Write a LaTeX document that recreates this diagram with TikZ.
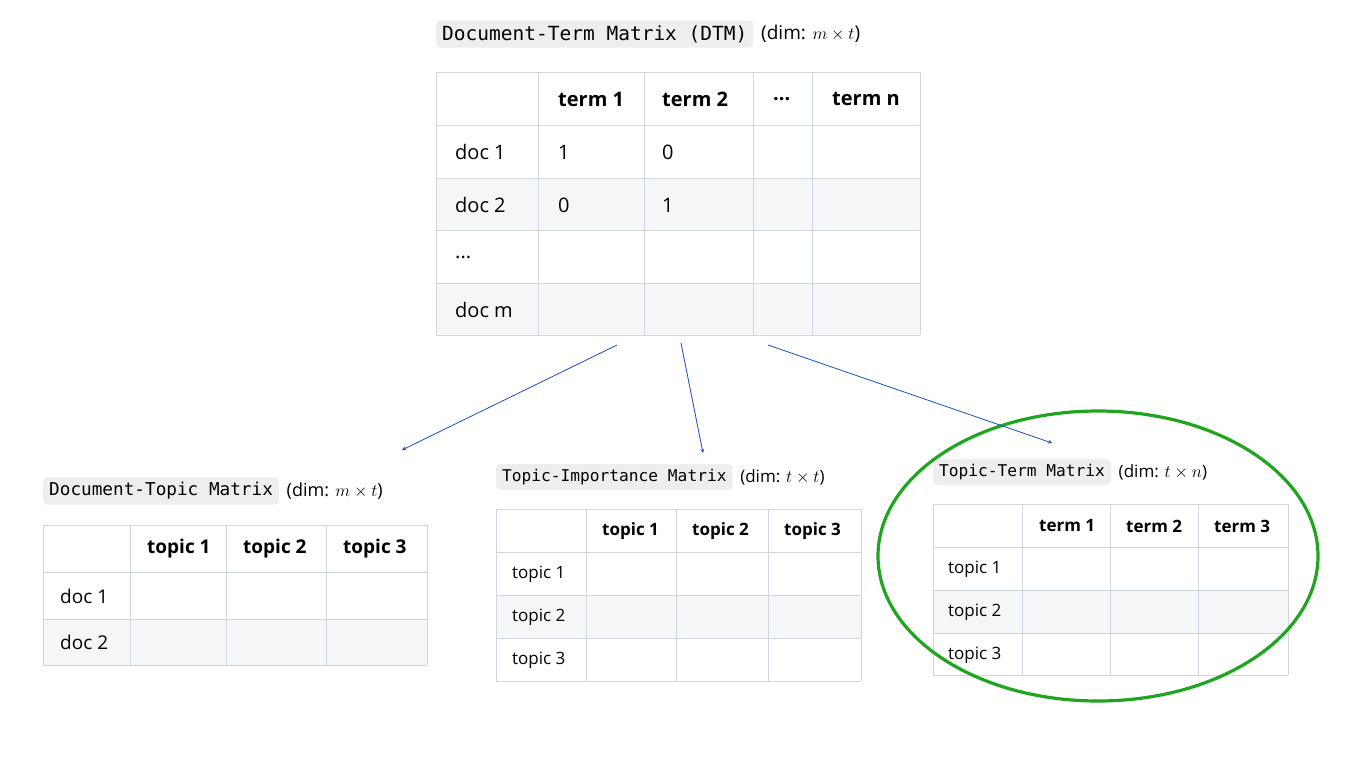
\documentclass[tikz,border=0pt]{standalone}
\usepackage{fontspec}
\setmainfont{Open Sans}
\setmonofont{DejaVu Sans Mono}
\definecolor{gridc}{HTML}{D0D7DE}
\definecolor{rowg}{HTML}{F4F6F8}
\definecolor{codeb}{HTML}{EEEEEE}
\definecolor{arr}{HTML}{1550C8}
\definecolor{grn}{HTML}{1FA51F}
\begin{document}
\begin{tikzpicture}[x=1pt,y=-1pt,
  grid/.style={draw=gridc,line width=0.9pt},
  codebox/.style={fill=codeb,rounded corners=4pt,inner xsep=6pt,inner ysep=5pt,anchor=west},
  dimtxt/.style={anchor=west,xshift=4pt},
  cell/.style={anchor=west,inner sep=0pt},
  arrowc/.style={draw=arr,line width=0.8pt,-stealth}]
\useasboundingbox (0,0) rectangle (1358,764);
% ---------- top table
\fill[rowg] (436,178) rectangle (920,230);
\fill[rowg] (436,283) rectangle (920,335);
\foreach \x in {436,538,644,753,812,920} \draw[grid] (\x,72)--(\x,335);
\foreach \y in {72,125,178,230,283,335} \draw[grid] (436,\y)--(920,\y);
\begin{scope}[font=\fontsize{20}{24}\selectfont]
\node[cell,font=\fontsize{20}{24}\selectfont\bfseries] (h1) at (558,99) {term 1};
\node[cell,font=\fontsize{20}{24}\selectfont\bfseries] (h2) at (662,99) {term 2};
\node[cell,font=\fontsize{20}{24}\selectfont\bfseries] (h3) at (773,99) {...};
\node[cell,font=\fontsize{20}{24}\selectfont\bfseries] (h4) at (832,99) {term n};
\node[cell] (r1) at (455,152) {doc 1};
\node[cell] (r2) at (455,205) {doc 2};
\node[cell] (r3) at (455,257) {...};
\node[cell] (r4) at (455,310) {doc m};
\node[cell] (c11) at (558,152) {1};
\node[cell] (c12) at (662,152) {0};
\node[cell] (c21) at (558,205) {0};
\node[cell] (c22) at (662,205) {1};
\end{scope}
\node[codebox,font=\fontsize{19.5}{22}\selectfont\ttfamily] (t0) at (436,34) {Document-Term Matrix (DTM)};
\node[dimtxt,font=\fontsize{19}{22}\selectfont] (d0) at (t0.east) {(dim: $m\times t$)};
% ---------- bottom left
\fill[rowg] (43,619) rectangle (427,665);
\foreach \x in {43,130,226,326,427} \draw[grid] (\x,525)--(\x,665);
\foreach \y in {525,572,619,665} \draw[grid] (43,\y)--(427,\y);
\begin{scope}[font=\fontsize{19}{22}\selectfont]
\node[cell,font=\fontsize{19}{22}\selectfont\bfseries] (a1) at (147,549) {topic 1};
\node[cell,font=\fontsize{19}{22}\selectfont\bfseries] (a2) at (243,549) {topic 2};
\node[cell,font=\fontsize{19}{22}\selectfont\bfseries] (a3) at (343,549) {topic 3};
\node[cell] (ar1) at (60,596) {doc 1};
\node[cell] (ar2) at (60,642) {doc 2};
\end{scope}
\node[codebox,font=\fontsize{17.7}{20}\selectfont\ttfamily] (t1) at (43,491) {Document-Topic Matrix};
\node[dimtxt,font=\fontsize{18}{21}\selectfont] (d1) at (t1.east) {(dim: $m\times t$)};
% ---------- bottom middle
\fill[rowg] (496,595) rectangle (861,638);
\foreach \x in {496,586,676,768,861} \draw[grid] (\x,509)--(\x,681);
\foreach \y in {509,552,595,638,681} \draw[grid] (496,\y)--(861,\y);
\begin{scope}[font=\fontsize{17}{20}\selectfont]
\node[cell,font=\fontsize{17}{20}\selectfont\bfseries] (b1) at (602,531) {topic 1};
\node[cell,font=\fontsize{17}{20}\selectfont\bfseries] (b2) at (692,531) {topic 2};
\node[cell,font=\fontsize{17}{20}\selectfont\bfseries] (b3) at (784,531) {topic 3};
\node[cell] (br1) at (512,574) {topic 1};
\node[cell] (br2) at (512,617) {topic 2};
\node[cell] (br3) at (512,660) {topic 3};
\end{scope}
\node[codebox,font=\fontsize{16.2}{19}\selectfont\ttfamily] (t2) at (496,477) {Topic-Importance Matrix};
\node[dimtxt,font=\fontsize{17}{20}\selectfont] (d2) at (t2.east) {(dim: $t\times t$)};
% ---------- bottom right
\fill[rowg] (933,590) rectangle (1288,633);
\foreach \x in {933,1022,1110,1198,1288} \draw[grid] (\x,504)--(\x,675);
\foreach \y in {504,547,590,633,675} \draw[grid] (933,\y)--(1288,\y);
\begin{scope}[font=\fontsize{17}{20}\selectfont]
\node[cell,font=\fontsize{17}{20}\selectfont\bfseries] (e1) at (1039,526) {term 1};
\node[cell,font=\fontsize{17}{20}\selectfont\bfseries] (e2) at (1126,526) {term 2};
\node[cell,font=\fontsize{17}{20}\selectfont\bfseries] (e3) at (1214,526) {term 3};
\node[cell] (er1) at (948,569) {topic 1};
\node[cell] (er2) at (948,612) {topic 2};
\node[cell] (er3) at (948,655) {topic 3};
\end{scope}
\node[codebox,font=\fontsize{16.2}{19}\selectfont\ttfamily] (t3) at (933,472) {Topic-Term Matrix};
\node[dimtxt,font=\fontsize{17}{20}\selectfont] (d3) at (t3.east) {(dim: $t\times n$)};
% ---------- ellipse
\draw[grn,line width=3.2pt] (1098,556) ellipse [x radius=220,y radius=145];
% ---------- arrows
\coordinate (s1) at (617,345); \coordinate (e1a) at (402,450);
\coordinate (s2) at (681,343); \coordinate (e2a) at (703,453);
\coordinate (s3) at (768,345); \coordinate (e3a) at (1052,443);
\draw[arrowc] (s1)--(e1a);
\draw[arrowc] (s2)--(e2a);
\draw[arrowc] (s3)--(e3a);
\end{tikzpicture}
\end{document}
